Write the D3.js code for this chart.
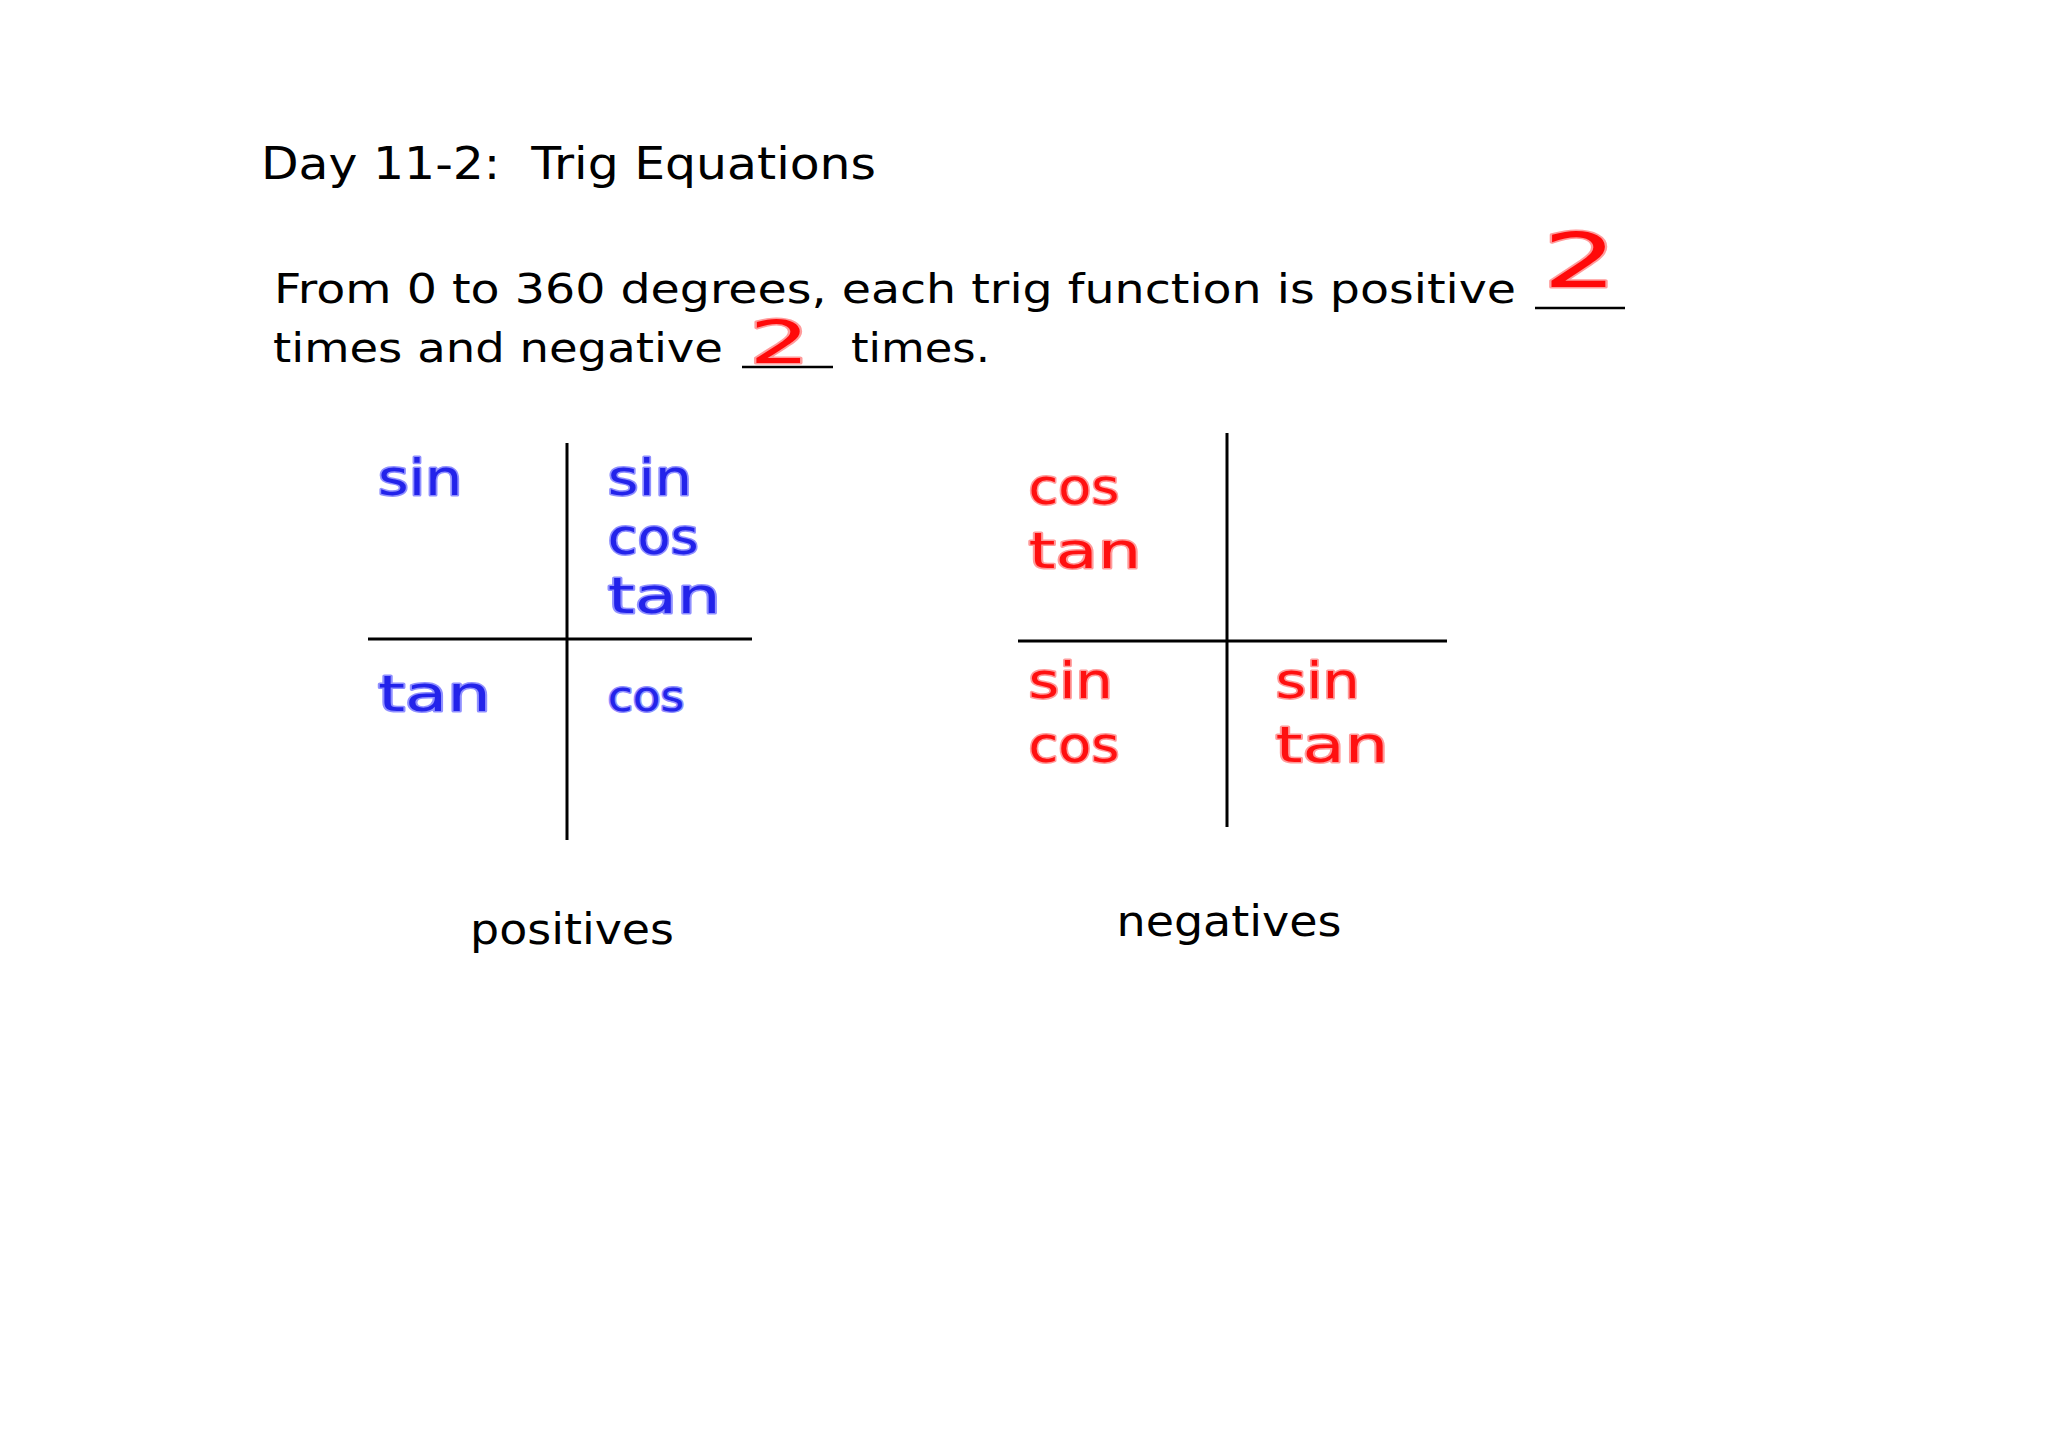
<!DOCTYPE html>
<html lang="en">
<head>
<meta charset="utf-8">
<title>Day 11-2: Trig Equations</title>
<script src="https://d3js.org/d3.v7.min.js"></script>
<style>
  body { margin: 0; background: #fff; }
  svg text { font-family: Verdana, "DejaVu Sans", sans-serif; }
</style>
</head>
<body>
<script>
// --- data ---
var titleText = "Day 11-2:  Trig Equations";
var questionLine1 = "From 0 to 360 degrees, each trig function is positive";
var questionLine2 = ["times and negative", "times."];
var answers = ["2", "2"];            // positive count, negative count
var diagramNames = ["positives", "negatives"];

// [quadrant, function] pairs, in the order they were written
var positiveWords = [["II", "sin"], ["I", "sin"], ["I", "cos"], ["I", "tan"], ["III", "tan"], ["IV", "cos"]];
var negativeWords = [["II", "cos"], ["II", "tan"], ["III", "sin"], ["III", "cos"], ["IV", "sin"], ["IV", "tan"]];

// --- page ---
var w = 2048, h = 1447;
var svg = d3.select("body").append("svg")
    .attr("width", w)
    .attr("height", h);

svg.append("rect").attr("width", w).attr("height", h).attr("fill", "#fff");

// heading
svg.append("text")
    .attr("x", 261).attr("y", 179)
    .attr("font-size", 45)
    .attr("textLength", 615).attr("lengthAdjust", "spacingAndGlyphs")
    .style("white-space", "pre")
    .text(titleText);

// question text with the two blanks
var q = svg.append("g").attr("font-size", 41);
q.append("text")
    .attr("x", 274).attr("y", 303)
    .attr("textLength", 1242).attr("lengthAdjust", "spacingAndGlyphs")
    .text(questionLine1);
q.append("text")
    .attr("x", 273).attr("y", 362)
    .attr("textLength", 450).attr("lengthAdjust", "spacingAndGlyphs")
    .text(questionLine2[0]);
q.append("text")
    .attr("x", 851).attr("y", 362)
    .attr("textLength", 139).attr("lengthAdjust", "spacingAndGlyphs")
    .text(questionLine2[1]);

var blanks = [
    {x0: 1535, x1: 1625, y: 308, size: 74, lift: 21, wid: 74, shift: 0},
    {x0: 742, x1: 833, y: 367, size: 58, lift: 4, wid: 60, shift: 8}
];
blanks.forEach(function(b, i) {
    svg.append("line")
        .attr("x1", b.x0).attr("x2", b.x1)
        .attr("y1", b.y).attr("y2", b.y)
        .attr("stroke", "#000").attr("stroke-width", 2.5);
    // handwritten answer sitting on the blank
    var cx = (b.x0 + b.x1) / 2 - b.shift;
    svg.append("text")
        .attr("x", cx - b.wid / 2)
        .attr("y", b.y - b.lift)
        .attr("font-size", b.size)
        .attr("textLength", b.wid).attr("lengthAdjust", "spacingAndGlyphs")
        .attr("fill", "#ff0a0a")
        .attr("stroke", "#ff9c9c").attr("stroke-width", 3)
        .attr("stroke-linejoin", "round")
        .style("paint-order", "stroke")
        .style("font-family", "'DejaVu Sans', sans-serif")
        .text(answers[i]);
});

// handwriting is wider than the font: stretch each word a little
var stretch = {sin: 1.18, cos: 1.08, tan: 1.38};

// --- quadrant diagrams ---
var diagrams = [
    {name: diagramNames[0], words: positiveWords, ink: "#2323ea", halo: "#9090ff",
     x: d3.scaleLinear().domain([-1, 0, 1]).range([368, 567, 752]),
     y: d3.scaleLinear().domain([-1, 0, 1]).range([840, 639, 443]),
     topStart: -144, botStart: 72, step: 59, capGap: 104},
    {name: diagramNames[1], words: negativeWords, ink: "#ff1010", halo: "#ff9c9c",
     x: d3.scaleLinear().domain([-1, 0, 1]).range([1018, 1227, 1447]),
     y: d3.scaleLinear().domain([-1, 0, 1]).range([827, 641, 433]),
     topStart: -137, botStart: 57, step: 64, capGap: 109}
];

diagrams.forEach(function(d, di) {
    var g = svg.append("g");

    // axes
    g.append("line")
        .attr("x1", d.x(-1)).attr("x2", d.x(1))
        .attr("y1", d.y(0)).attr("y2", d.y(0))
        .attr("stroke", "#000").attr("stroke-width", 3);
    g.append("line")
        .attr("x1", d.x(0)).attr("x2", d.x(0))
        .attr("y1", d.y(1)).attr("y2", d.y(-1))
        .attr("stroke", "#000").attr("stroke-width", 3);

    // row number of each word inside its quadrant
    var count = {};
    var placed = d.words.map(function(p) {
        count[p[0]] = (count[p[0]] || 0);
        var r = count[p[0]]++;
        return {quad: p[0], word: p[1], row: r};
    });

    g.selectAll("text.word")
        .data(placed)
        .enter()
        .append("text")
        .attr("class", "word")
        .attr("x", function(p) {
            var left = (p.quad === "II" || p.quad === "III");
            return left ? d.x(-0.95) : d.x(0.22);
        })
        .attr("y", function(p) {
            var top = (p.quad === "I" || p.quad === "II");
            return d.y(0) + (top ? d.topStart : d.botStart) + p.row * d.step;
        })
        .attr("font-size", function(p) {
            // the lone cos in quadrant IV of the positives was written smaller
            return (di === 0 && p.quad === "IV") ? 42 : 50;
        })
        .attr("fill", d.ink)
        .attr("stroke", d.halo).attr("stroke-width", 3)
        .attr("stroke-linejoin", "round")
        .style("paint-order", "stroke")
        .style("font-family", "'DejaVu Sans', sans-serif")
        .text(function(p) { return p.word; })
        .each(function(p) {
            var len = this.getComputedTextLength();
            d3.select(this)
                .attr("textLength", len * stretch[p.word])
                .attr("lengthAdjust", "spacingAndGlyphs");
        });

    // caption
    g.append("text")
        .attr("x", d.x(0) + (di ? 2 : 5))
        .attr("y", d.y(-1) + d.capGap)
        .attr("text-anchor", "middle")
        .attr("font-size", 43)
        .attr("textLength", di ? 225 : 204).attr("lengthAdjust", "spacingAndGlyphs")
        .text(d.name);
});
</script>
</body>
</html>
